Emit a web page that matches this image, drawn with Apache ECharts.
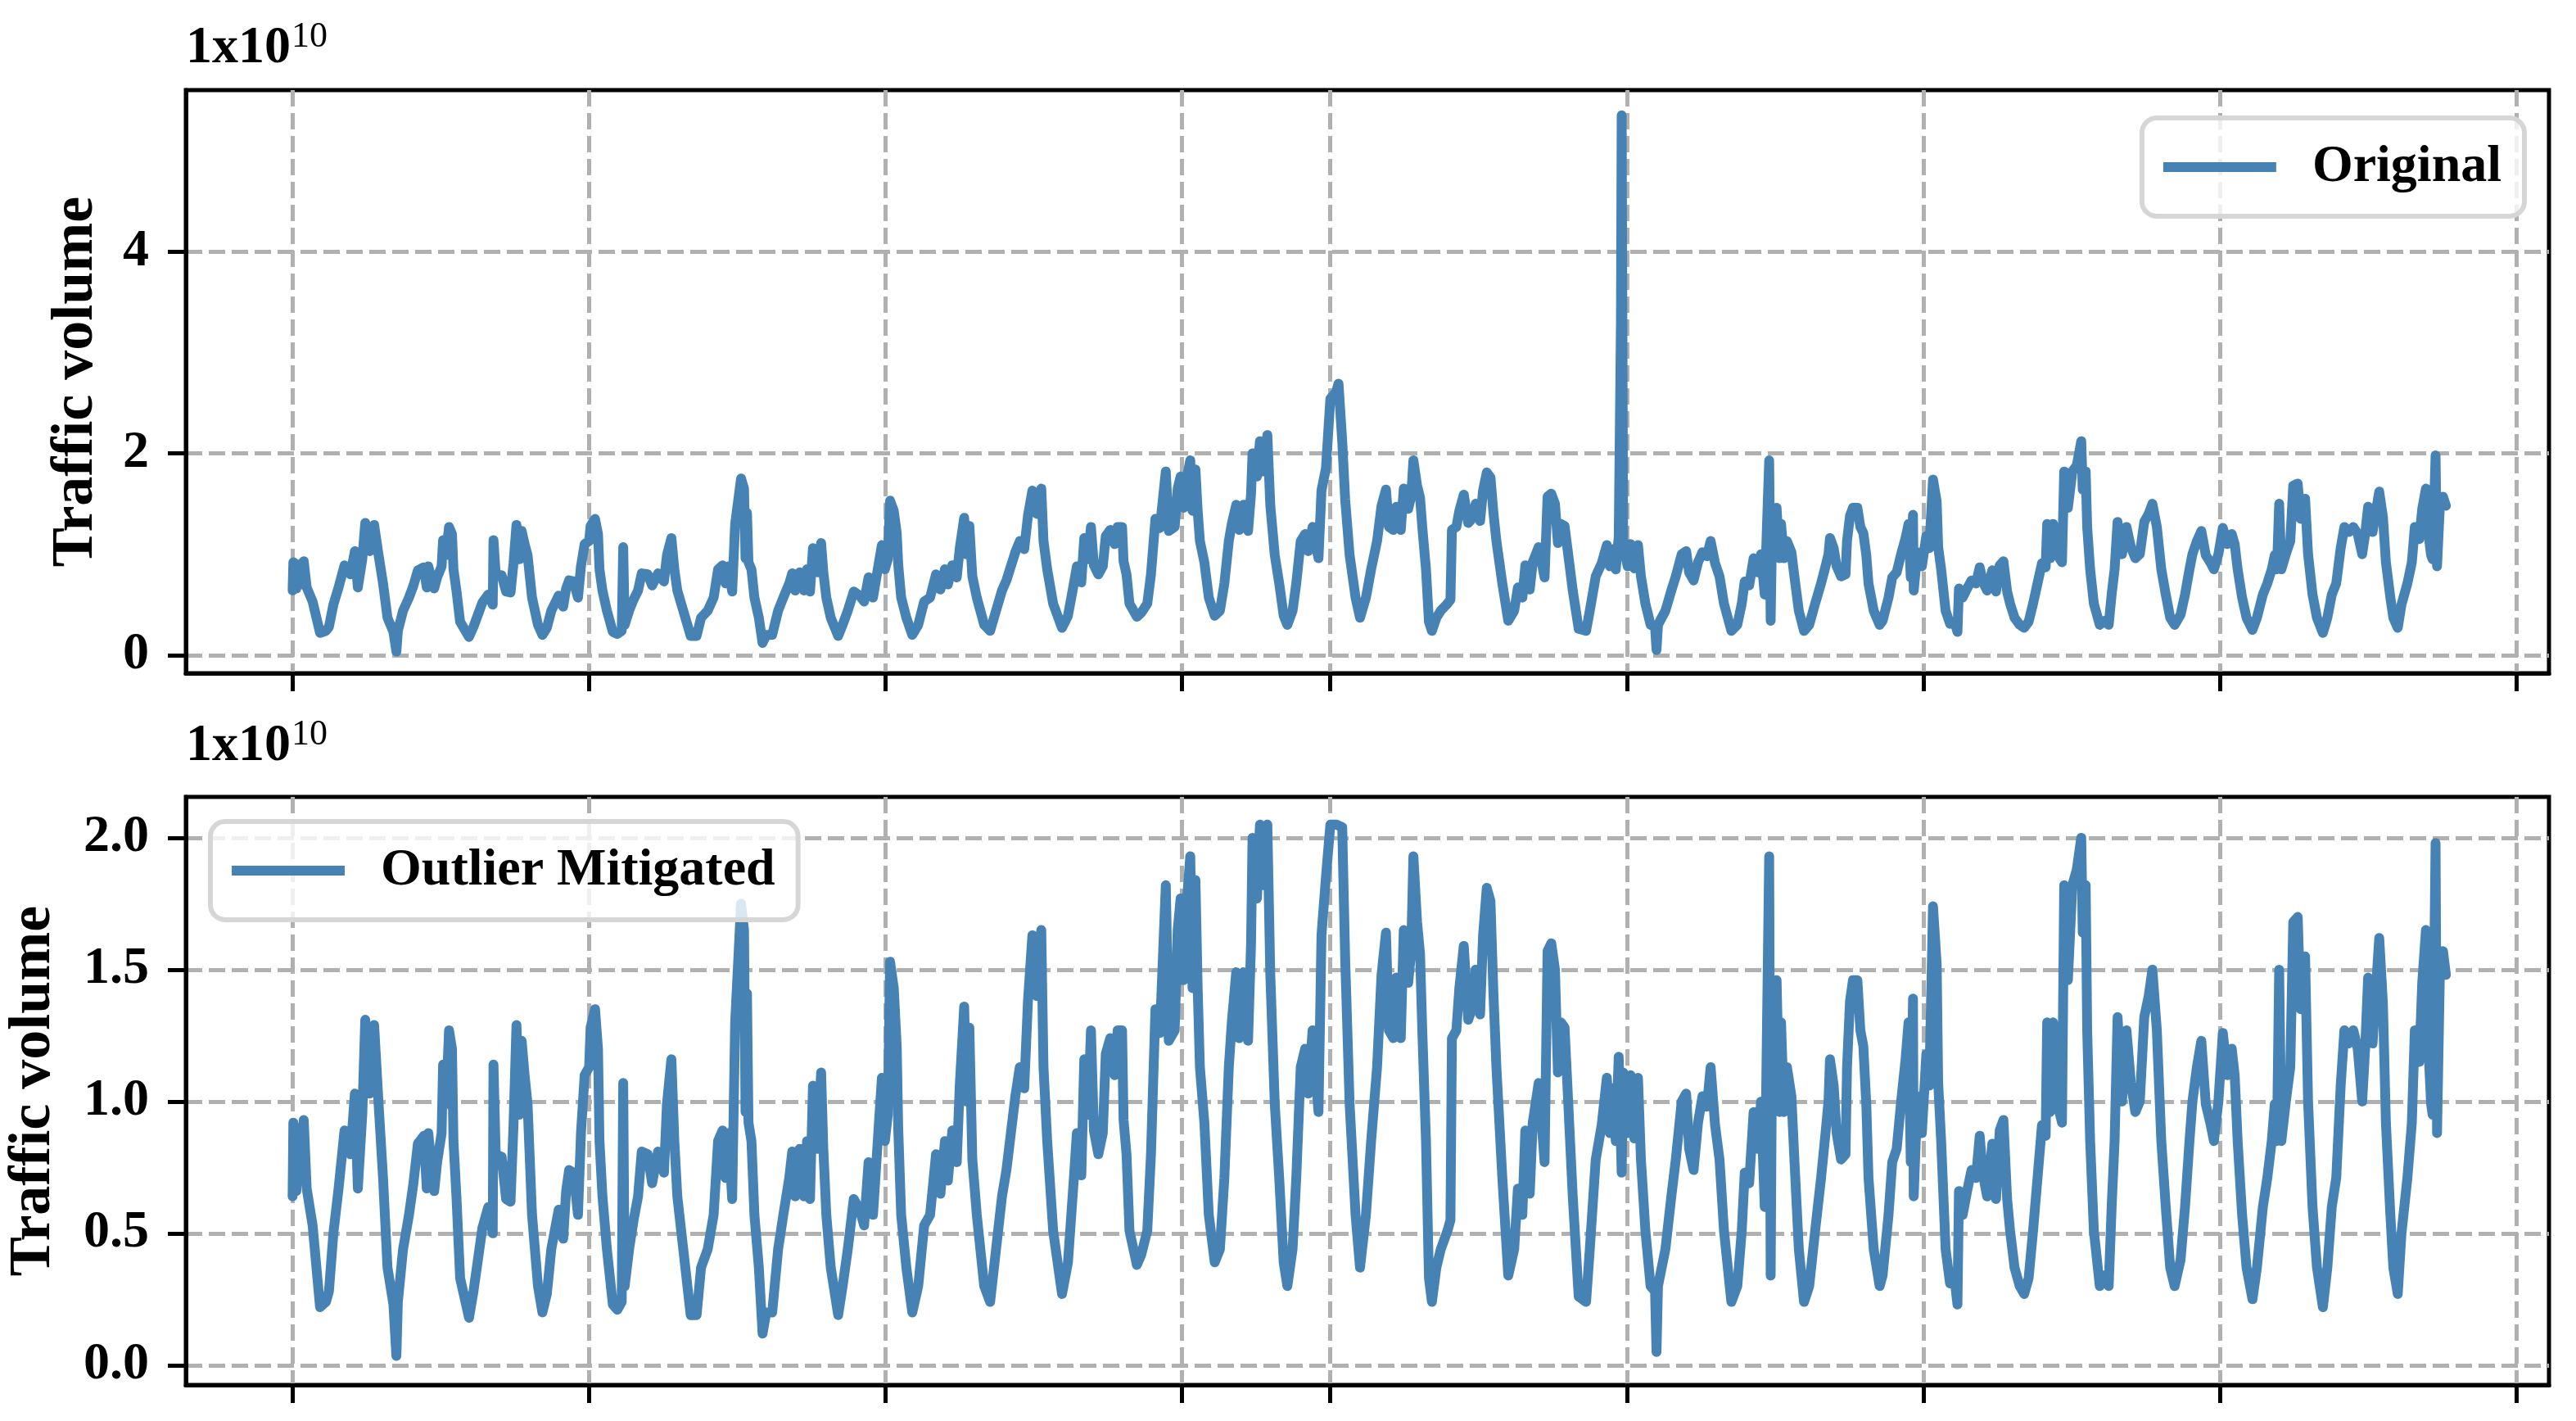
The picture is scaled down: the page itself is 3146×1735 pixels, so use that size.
<!DOCTYPE html>
<html>
<head>
<meta charset="utf-8">
<title>Traffic volume</title>
<script src="https://cdn.jsdelivr.net/npm/echarts@6/dist/echarts.min.js"></script>
<style>
  html, body { margin: 0; padding: 0; background: #fff; }
  #chart { width: 3146px; height: 1735px; }
</style>
</head>
<body>
<div id="chart"></div>
<script>
// x in days from start, y in units of 1e10
const xTickDays = [0, 4, 8, 12, 14, 18, 22, 26, 30]
const topYTicks = [0, 2, 4]
const bottomYTicks = [0, 0.5, 1.0, 1.5, 2.0]

// outlier mitigated series
const mitigatedPts = [
  [0,0.64],[0.01,0.92],[0.05,0.66],[0.09,0.90],[0.13,0.70],[0.15,0.93],[0.19,0.67],[0.27,0.53],[0.37,0.22],[0.45,0.24],
  [0.49,0.28],[0.55,0.50],[0.62,0.67],[0.70,0.89],[0.78,0.80],[0.84,1.03],[0.88,0.67],[0.94,0.95],[0.98,1.31],[1.04,1.03],
  [1.10,1.29],[1.16,0.99],[1.22,0.71],[1.28,0.37],[1.36,0.23],[1.40,0.035],[1.42,0.24],[1.49,0.44],[1.57,0.57],[1.63,0.69],
  [1.69,0.84],[1.77,0.87],[1.81,0.67],[1.83,0.88],[1.91,0.66],[1.95,0.77],[2.01,0.88],[2.03,1.14],[2.07,0.99],[2.11,1.27],
  [2.15,1.20],[2.17,0.85],[2.21,0.64],[2.26,0.33],[2.38,0.18],[2.44,0.28],[2.52,0.44],[2.56,0.52],[2.64,0.60],[2.70,0.50],
  [2.71,1.14],[2.74,0.80],[2.82,0.79],[2.88,0.63],[2.94,0.62],[2.98,0.91],[3.02,1.29],[3.06,0.95],[3.09,1.23],[3.13,1.10],
  [3.17,0.99],[3.23,0.57],[3.31,0.30],[3.37,0.20],[3.43,0.27],[3.49,0.44],[3.59,0.59],[3.65,0.48],[3.69,0.66],[3.73,0.74],
  [3.79,0.73],[3.85,0.57],[3.89,0.88],[3.94,1.10],[4.00,1.13],[4.02,1.28],[4.08,1.35],[4.12,1.20],[4.14,0.85],[4.18,0.64],
  [4.24,0.44],[4.32,0.23],[4.38,0.21],[4.44,0.24],[4.46,1.07],[4.48,0.30],[4.54,0.44],[4.60,0.55],[4.66,0.64],[4.71,0.81],
  [4.79,0.80],[4.85,0.69],[4.93,0.81],[5.01,0.73],[5.05,0.99],[5.11,1.16],[5.15,0.85],[5.19,0.64],[5.27,0.44],[5.37,0.19],
  [5.45,0.19],[5.51,0.37],[5.60,0.44],[5.68,0.57],[5.74,0.85],[5.80,0.89],[5.84,0.71],[5.88,0.88],[5.93,0.63],[5.97,1.30],
  [6.05,1.75],[6.09,1.65],[6.11,0.96],[6.13,1.41],[6.15,0.92],[6.19,0.85],[6.23,0.57],[6.29,0.37],[6.34,0.12],[6.39,0.20],
  [6.47,0.20],[6.55,0.44],[6.62,0.57],[6.70,0.71],[6.74,0.81],[6.78,0.64],[6.84,0.82],[6.90,0.64],[6.94,0.85],[6.98,0.63],
  [7.02,1.06],[7.08,0.82],[7.13,1.11],[7.16,0.82],[7.20,0.57],[7.26,0.37],[7.36,0.19],[7.42,0.30],[7.49,0.44],[7.57,0.63],
  [7.65,0.59],[7.71,0.53],[7.77,0.77],[7.83,0.57],[7.91,0.92],[7.95,1.09],[7.99,0.85],[8.03,0.95],[8.06,1.53],[8.11,1.43],
  [8.15,1.21],[8.17,0.90],[8.21,0.57],[8.28,0.37],[8.36,0.20],[8.44,0.30],[8.52,0.53],[8.60,0.57],[8.68,0.80],[8.74,0.65],
  [8.80,0.85],[8.84,0.70],[8.90,0.89],[8.96,0.77],[9.00,1.06],[9.06,1.36],[9.09,1.00],[9.13,1.28],[9.17,0.78],[9.23,0.57],
  [9.33,0.30],[9.41,0.24],[9.49,0.44],[9.57,0.64],[9.63,0.74],[9.69,0.88],[9.75,1.02],[9.81,1.13],[9.87,1.05],[9.92,1.38],
  [9.98,1.63],[10.04,1.40],[10.10,1.65],[10.13,1.13],[10.18,0.85],[10.26,0.51],[10.38,0.27],[10.46,0.39],[10.54,0.71],[10.58,0.88],
  [10.64,0.72],[10.68,1.16],[10.73,0.95],[10.77,1.27],[10.81,0.89],[10.87,0.80],[10.93,0.88],[10.97,1.18],[11.03,1.24],[11.09,1.10],
  [11.13,1.27],[11.19,1.27],[11.21,0.93],[11.25,0.80],[11.29,0.51],[11.39,0.38],[11.45,0.42],[11.53,0.51],[11.58,0.80],[11.64,1.35],
  [11.70,1.26],[11.78,1.82],[11.82,1.23],[11.90,1.27],[11.94,1.65],[11.98,1.77],[12.02,1.46],[12.06,1.74],[12.11,1.93],[12.14,1.43],
  [12.18,1.84],[12.21,1.43],[12.24,1.13],[12.30,0.92],[12.36,0.57],[12.44,0.39],[12.51,0.44],[12.57,0.71],[12.63,1.13],[12.67,1.30],
  [12.73,1.49],[12.77,1.24],[12.83,1.49],[12.89,1.23],[12.93,1.60],[12.95,2.00],[13.01,1.77],[13.05,2.05],[13.09,1.82],[13.15,2.05],
  [13.19,1.48],[13.25,0.99],[13.31,0.71],[13.37,0.39],[13.42,0.30],[13.49,0.44],[13.54,0.71],[13.60,1.13],[13.66,1.20],[13.70,1.03],
  [13.76,1.27],[13.80,1.11],[13.84,0.96],[13.88,1.63],[13.94,1.85],[14.00,2.05],[14.08,2.05],[14.16,2.04],[14.20,1.54],[14.26,0.99],
  [14.34,0.57],[14.40,0.37],[14.48,0.57],[14.55,0.85],[14.63,1.13],[14.69,1.48],[14.75,1.64],[14.79,1.27],[14.85,1.24],[14.89,1.47],
  [14.95,1.24],[14.99,1.65],[15.05,1.45],[15.09,1.57],[15.12,1.93],[15.17,1.68],[15.21,1.56],[15.24,1.27],[15.29,0.85],[15.33,0.33],
  [15.37,0.24],[15.43,0.37],[15.49,0.44],[15.58,0.51],[15.62,0.55],[15.64,1.24],[15.70,1.27],[15.74,1.43],[15.80,1.59],[15.86,1.31],
  [15.92,1.36],[15.96,1.50],[16.02,1.33],[16.06,1.63],[16.11,1.81],[16.16,1.76],[16.20,1.41],[16.24,1.13],[16.32,0.71],[16.40,0.34],
  [16.48,0.44],[16.53,0.67],[16.59,0.57],[16.63,0.89],[16.69,0.65],[16.73,0.92],[16.81,1.07],[16.85,0.92],[16.89,0.77],[16.93,1.57],
  [16.98,1.60],[17.03,1.50],[17.07,1.11],[17.11,1.30],[17.16,1.28],[17.21,0.99],[17.27,0.64],[17.35,0.26],[17.45,0.24],[17.50,0.44],
  [17.58,0.78],[17.66,0.91],[17.73,1.09],[17.77,0.88],[17.81,1.05],[17.85,0.85],[17.89,1.17],[17.93,0.73],[17.95,1.11],[18.01,0.88],
  [18.05,1.10],[18.10,0.86],[18.15,1.09],[18.19,0.78],[18.25,0.51],[18.32,0.30],[18.38,0.28],[18.40,0.05],[18.42,0.30],[18.52,0.44],
  [18.60,0.64],[18.66,0.78],[18.74,1.00],[18.80,1.03],[18.84,0.82],[18.90,0.74],[18.96,0.92],[19.02,1.02],[19.08,0.98],[19.13,1.13],
  [19.19,0.91],[19.25,0.78],[19.31,0.51],[19.41,0.24],[19.49,0.30],[19.55,0.51],[19.59,0.73],[19.65,0.69],[19.71,0.96],[19.77,0.82],
  [19.81,1.00],[19.86,0.60],[19.89,1.28],[19.92,1.93],[19.94,0.34],[19.96,1.28],[20.02,1.46],[20.06,0.96],[20.08,1.30],[20.12,0.96],
  [20.16,1.13],[20.22,1.02],[20.26,0.78],[20.32,0.44],[20.39,0.24],[20.46,0.30],[20.54,0.51],[20.62,0.71],[20.68,0.88],[20.72,1.00],
  [20.74,1.16],[20.79,1.06],[20.83,0.88],[20.89,0.78],[20.95,0.80],[20.97,1.13],[21.01,1.38],[21.05,1.46],[21.11,1.46],[21.15,1.27],
  [21.19,1.21],[21.23,0.99],[21.26,0.71],[21.33,0.44],[21.41,0.30],[21.45,0.34],[21.53,0.57],[21.58,0.77],[21.64,0.82],[21.70,1.00],
  [21.76,1.16],[21.80,1.30],[21.83,0.77],[21.86,1.39],[21.87,0.64],[21.92,1.02],[21.98,0.88],[22.04,1.18],[22.08,1.06],[22.13,1.74],
  [22.18,1.52],[22.20,1.07],[22.24,0.85],[22.30,0.44],[22.36,0.31],[22.42,0.33],[22.46,0.23],[22.48,0.66],[22.53,0.57],[22.59,0.66],
  [22.65,0.74],[22.71,0.71],[22.76,0.87],[22.80,0.73],[22.86,0.64],[22.93,0.84],[22.98,0.63],[23.03,0.89],[23.08,0.93],[23.13,0.63],
  [23.17,0.51],[23.23,0.37],[23.30,0.30],[23.36,0.27],[23.42,0.33],[23.48,0.51],[23.54,0.71],[23.60,0.91],[23.65,0.87],[23.67,1.30],
  [23.71,0.96],[23.75,1.30],[23.81,0.99],[23.87,0.92],[23.90,1.82],[23.95,1.46],[24.01,1.82],[24.07,1.88],[24.13,2.00],[24.15,1.64],
  [24.19,1.82],[24.21,1.27],[24.25,0.85],[24.30,0.51],[24.38,0.30],[24.44,0.34],[24.50,0.30],[24.54,0.60],[24.58,0.85],[24.62,1.32],
  [24.68,1.00],[24.74,1.27],[24.80,1.07],[24.86,0.96],[24.92,1.00],[24.98,1.32],[25.04,1.40],[25.09,1.50],[25.15,1.27],[25.21,0.85],
  [25.27,0.60],[25.33,0.37],[25.39,0.30],[25.47,0.40],[25.53,0.60],[25.59,0.85],[25.63,1.00],[25.69,1.13],[25.75,1.23],[25.81,0.99],
  [25.87,0.92],[25.92,0.85],[25.98,1.00],[26.04,1.26],[26.10,1.10],[26.16,1.20],[26.20,1.10],[26.24,0.85],[26.30,0.57],[26.36,0.37],
  [26.44,0.25],[26.50,0.37],[26.58,0.60],[26.64,0.71],[26.70,0.85],[26.74,0.99],[26.77,0.85],[26.80,1.50],[26.83,0.85],[26.89,1.00],
  [26.95,1.13],[26.99,1.68],[27.05,1.70],[27.09,1.35],[27.15,1.55],[27.19,1.00],[27.25,0.60],[27.31,0.37],[27.39,0.22],[27.45,0.37],
  [27.51,0.60],[27.57,0.71],[27.63,1.06],[27.68,1.27],[27.74,1.22],[27.80,1.27],[27.86,1.20],[27.92,1.00],[27.96,1.20],[28.00,1.47],
  [28.06,1.22],[28.10,1.40],[28.15,1.62],[28.20,1.37],[28.24,0.92],[28.30,0.57],[28.34,0.37],[28.40,0.27],[28.45,0.50],[28.53,0.71],
  [28.59,0.92],[28.63,1.27],[28.69,1.15],[28.73,1.45],[28.78,1.65],[28.81,1.22],[28.85,0.99],[28.87,0.95],[28.91,1.98],[28.93,0.88],
  [28.97,1.51],[29.01,1.57],[29.05,1.48]
]

// points where the original series differs
const originalOutliers = [
  [13.05, 2.12], [13.15, 2.18], [14.00, 2.54], [14.08, 2.61], [14.11, 2.69],
  [14.16, 2.12], [17.92, 3.30], [17.93, 5.35], [24.13, 2.12]
]

const outlierMap = new Map(originalOutliers.map(p => [p[0], p[1]]))
const originalPts = mitigatedPts.map(p => outlierMap.has(p[0]) ? [p[0], outlierMap.get(p[0])] : p)
originalOutliers.forEach(p => {
  if (!mitigatedPts.some(q => q[0] === p[0])) originalPts.push(p)
})
originalPts.sort((a, b) => a[0] - b[0])

const FONT = '"Liberation Serif", "DejaVu Serif", serif'
const LINE_COLOR = '#4682b4'
const spine = { color: '#000', width: 5 }
const gridLine = { color: '#b0b0b0', width: 5, type: [20, 8] }

function makeXAxis(gridIndex) {
  return {
    type: 'value',
    gridIndex: gridIndex,
    min: -1.44,
    max: 30.44,
    axisLine: { show: true, onZero: false, lineStyle: spine },
    axisTick: { show: true, customValues: xTickDays, length: 22, lineStyle: spine },
    axisLabel: { show: false },
    splitLine: { show: true, lineStyle: gridLine }
  }
}

function makeYAxis(gridIndex, min, max, ticks, digits, gap) {
  return {
    type: 'value',
    gridIndex: gridIndex,
    min: min,
    max: max,
    name: 'Traffic volume',
    nameLocation: 'middle',
    nameGap: gap,
    nameRotate: 90,
    nameTextStyle: { fontFamily: FONT, fontSize: 72, fontWeight: 'bold', color: '#000' },
    axisLine: { show: true, onZero: false, lineStyle: spine },
    axisTick: { show: true, customValues: ticks, length: 22, lineStyle: spine },
    axisLabel: {
      show: true,
      customValues: ticks,
      margin: 45,
      formatter: v => Number(v).toFixed(digits),
      fontFamily: FONT,
      fontSize: 64,
      fontWeight: 'bold',
      color: '#000'
    },
    splitLine: { show: true, lineStyle: gridLine }
  }
}

function makeLegend(name, pos) {
  return Object.assign({
    data: [name],
    orient: 'horizontal',
    icon: 'rect',
    itemWidth: 138,
    itemHeight: 12,
    padding: [28, 28, 28, 26],
    backgroundColor: 'rgba(255,255,255,0.8)',
    borderColor: '#d6d6d6',
    borderWidth: 6,
    borderRadius: 18,
    selectedMode: false,
    textStyle: { fontFamily: FONT, fontSize: 64, fontWeight: 'bold', color: '#000', padding: [0, 0, 0, 39] }
  }, pos)
}

function offsetText(y) {
  return [
    {
      type: 'text', x: 227, y: y,
      style: { text: '1x10', fontFamily: FONT, fontSize: 64, fontWeight: 'bold', fill: '#000', verticalAlign: 'middle' }
    },
    {
      type: 'text', x: 356, y: y - 14,
      style: { text: '10', fontFamily: FONT, fontSize: 44, fontWeight: 'normal', fill: '#000', verticalAlign: 'middle' }
    }
  ]
}

function makeSeries(name, data, idx) {
  return {
    type: 'line',
    name: name,
    xAxisIndex: idx,
    yAxisIndex: idx,
    data: data,
    symbol: 'none',
    showSymbol: false,
    sampling: null,
    itemStyle: { color: LINE_COLOR },
    lineStyle: { color: LINE_COLOR, width: 12, join: 'round', cap: 'round' }
  }
}

const chart = echarts.init(document.getElementById('chart'))

const option = {
  animation: false,
  backgroundColor: '#fff',
  grid: [
    { left: 227, right: 33, top: 110, height: 712, show: true, borderColor: '#000', borderWidth: 5,
      containLabel: false, outerBoundsMode: 'none' },
    { left: 227, right: 33, top: 973, height: 718, show: true, borderColor: '#000', borderWidth: 5,
      containLabel: false, outerBoundsMode: 'none' }
  ],
  xAxis: [makeXAxis(0), makeXAxis(1)],
  yAxis: [
    makeYAxis(0, -0.18, 5.6, topYTicks, 0, 98),
    makeYAxis(1, -0.075, 2.155, bottomYTicks, 1, 150)
  ],
  legend: [
    makeLegend('Original', { right: 63, top: 144 }),
    makeLegend('Outlier Mitigated', { left: 257, top: 1003 })
  ],
  graphic: offsetText(59).concat(offsetText(911)),
  series: [
    makeSeries('Original', originalPts, 0),
    makeSeries('Outlier Mitigated', mitigatedPts, 1)
  ]
}

chart.setOption(option)
</script>
</body>
</html>
